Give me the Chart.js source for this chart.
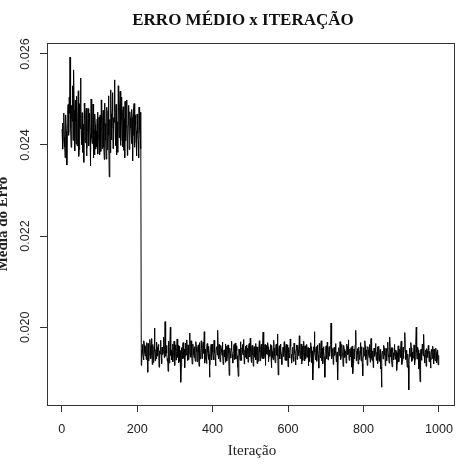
<!DOCTYPE html>
<html>
<head>
<meta charset="utf-8">
<script src="https://cdn.jsdelivr.net/npm/chart.js@4"></script>
<style>
  body { margin: 0; background: #fff; }
  #box { width: 474px; height: 474px; }
</style>
</head>
<body>
<div id="box"><canvas id="myChart"></canvas></div>
<script>
// ticks of the axes
const iteracaoTicks = [0, 200, 400, 600, 800, 1000];
const erroTicks = [0.020, 0.022, 0.024, 0.026];

// mean error at the odd iterations (1, 3, ..., 999)
const erroImpar = [
  // before the drop (iter 1 - 209)
  0.02435,0.02391,0.02455,0.02418,0.02372,0.02466,0.02402,0.02445,0.02489,0.02427,
  0.02470,0.02512,0.02395,0.02461,0.02530,0.02424,0.02476,0.02387,0.02452,0.02507,
  0.02398,0.02460,0.02375,0.02491,0.02436,0.02468,0.02401,0.02447,0.02419,0.02362,
  0.02459,0.02428,0.02481,0.02393,0.02443,0.02406,0.02469,0.02421,0.02387,0.02456,
  0.02403,0.02490,0.02414,0.02378,0.02445,0.02431,0.02396,0.02472,0.02413,0.02461,
  0.02379,0.02437,0.02499,0.02392,0.02453,0.02428,0.02368,0.02447,0.02410,0.02464,
  0.02389,0.02475,0.02421,0.02456,0.02383,0.02468,0.02437,0.02515,0.02404,0.02450,
  0.02487,0.02399,0.02462,0.02431,0.02384,0.02477,0.02442,0.02518,0.02410,0.02458,
  0.02396,0.02484,0.02429,0.02372,0.02463,0.02438,0.02499,0.02417,0.02454,0.02390,
  0.02473,0.02437,0.02403,0.02461,0.02421,0.02482,0.02395,0.02466,0.02430,0.02376,
  0.02449,0.02408,0.02483,0.02434,0.02392,
  // after the drop (iter 211 - 999)
  0.01916,0.01950,0.01943,0.01928,0.01961,0.01937,0.01954,0.01945,0.01932,0.01964,
  0.01926,0.01948,0.01959,0.01940,0.01975,0.01934,0.01922,0.01957,0.01947,0.01939,
  0.01930,0.01955,0.01946,0.01962,0.01927,0.01941,0.01958,0.01920,0.01951,0.01944,
  0.01962,0.01948,0.01936,0.01953,0.01943,0.01931,0.01969,0.01921,0.01955,0.01938,
  0.01950,0.01944,0.01924,0.01957,0.01939,0.01961,0.01928,0.01946,0.01933,0.01960,
  0.01940,0.01925,0.01949,0.01914,0.01943,0.01958,0.01931,0.01952,0.01937,0.01965,
  0.01947,0.01936,0.01961,0.01929,0.01955,0.01942,0.01970,0.01939,0.01926,0.01952,
  0.01933,0.01946,0.01941,0.01957,0.01924,0.01950,0.01944,0.01966,0.01930,0.01945,
  0.01954,0.01938,0.01967,0.01943,0.01921,0.01948,0.01935,0.01958,0.01946,0.01929,
  0.01940,0.01917,0.01952,0.01939,0.01963,0.01945,0.01928,0.01956,0.01934,0.01942,
  0.01957,0.01949,0.01936,0.01962,0.01941,0.01927,0.01953,0.01938,0.01944,0.01930,
  0.01950,0.01942,0.01923,0.01958,0.01935,0.01961,0.01947,0.01916,0.01941,0.01951,
  0.01955,0.01933,0.01946,0.01962,0.01929,0.01944,0.01959,0.01937,0.01921,0.01940,
  0.01951,0.01927,0.01945,0.01936,0.01962,0.01939,0.01955,0.01931,0.01958,0.01943,
  0.01930,0.01954,0.01941,0.01964,0.01935,0.01947,0.01922,0.01960,0.01938,0.01945,
  0.01943,0.01950,0.01928,0.01957,0.01940,0.01925,0.01953,0.01946,0.01937,0.01962,
  0.01931,0.01958,0.01944,0.01937,0.01962,0.01935,0.01949,0.01940,0.01957,0.01929,
  0.01945,0.01951,0.01934,0.01960,0.01941,0.01928,0.01954,0.01936,0.01946,0.01963,
  0.01937,0.01946,0.01928,0.01959,0.01942,0.01950,0.01932,0.01945,0.01956,0.01940,
  0.01950,0.01936,0.01962,0.01927,0.01948,0.01955,0.01939,0.01944,0.01958,0.01933,
  0.01940,0.01950,0.01925,0.01956,0.01938,0.01946,0.01961,0.01931,0.01949,0.01943,
  0.01952,0.01937,0.01963,0.01941,0.01927,0.01954,0.01944,0.01959,0.01930,0.01946,
  0.01934,0.01955,0.01940,0.01924,0.01949,0.01957,0.01936,0.01945,0.01918,0.01952,
  0.01945,0.01928,0.01957,0.01942,0.01950,0.01933,0.01964,0.01939,0.01946,0.01926,
  0.01954,0.01940,0.01946,0.01915,0.01938,0.01959,0.01931,0.01952,0.01943,0.01957,
  0.01942,0.01962,0.01948,0.01937,0.01953,0.01930,0.01956,0.01944,0.01950,0.01932,
  0.01923,0.01947,0.01955,0.01941,0.01950,0.01936,0.01962,0.01939,0.01932,0.01951,
  0.01936,0.01944,0.01928,0.01958,0.01943,0.01950,0.01937,0.01947,0.01955,0.01930,
  0.01939,0.01920,0.01952,0.01945,0.01961,0.01926,0.01947,0.01940,0.01956,0.01929,
  0.01948,0.01942,0.01957,0.01919,0.01934,0.01951,0.01944,0.01958,0.01936,0.01945,
  0.01940,0.01950,0.01933,0.01956,0.01944,0.01961,0.01927,0.01943,0.01937,0.01952,
  0.01943,0.01951,0.01938,0.01957,0.01930,0.01946,0.01925,0.01940,0.01912,0.01939,
  0.01945,0.01936,0.01954,0.01948,0.01931,0.01942,0.01950,0.01958,0.01934,0.01949,
  0.01952,0.01940,0.01927,0.01955,0.01943,0.01938,0.01951,0.01929,0.01946,0.01921,
  0.01935,0.01948,0.01938,0.01945,0.01952,0.01940,0.01926,0.01956,0.01944,0.01961,
  0.01950,0.01937,0.01933,0.01925,0.01915,0.01932,0.01949,0.01941,0.01954,0.01928,
  0.01943,0.01940,0.01956,0.01929,0.01962,0.01945,0.01938,0.01950,0.01925,0.01911,
  0.01934,0.01952,0.01941,0.01958,0.01946,0.01939,0.01932,0.01950,0.01926,0.01947,
  0.01941,0.01949,0.01935,0.01933,0.01928,0.01945,0.01937,0.01942,0.01952,0.01933,
  0.01937,0.01944,0.01930,0.01950,0.01929
];

// mean error at the even iterations (2, 4, ..., 1000)
const erroPar = [
  // before the drop (iter 2 - 210)
  0.02448,0.02412,0.02470,0.02395,0.02462,0.02430,0.02356,0.02478,0.02421,0.02505,
  0.02593,0.02438,0.02487,0.02452,0.02410,0.02565,0.02441,0.02498,0.02402,0.02476,
  0.02433,0.02519,0.02390,0.02458,0.02547,0.02420,0.02471,0.02384,0.02446,0.02492,
  0.02405,0.02463,0.02376,0.02437,0.02480,0.02398,0.02452,0.02354,0.02501,0.02415,
  0.02447,0.02372,0.02432,0.02468,0.02391,0.02425,0.02457,0.02380,0.02440,0.02408,
  0.02466,0.02386,0.02449,0.02418,0.02476,0.02395,0.02492,0.02427,0.02369,0.02483,
  0.02439,0.02508,0.02330,0.02455,0.02521,0.02411,0.02474,0.02392,0.02460,0.02543,
  0.02423,0.02489,0.02378,0.02451,0.02530,0.02416,0.02482,0.02399,0.02505,0.02436,
  0.02471,0.02388,0.02458,0.02496,0.02409,0.02465,0.02377,0.02444,0.02487,0.02401,
  0.02459,0.02420,0.02478,0.02365,0.02452,0.02491,0.02404,0.02445,0.02383,0.02468,
  0.02426,0.02372,0.02455,0.02412,0.02472,
  // after the drop (iter 212 - 1000)
  0.01921,0.01962,0.01935,0.01970,0.01944,0.01958,0.01929,0.01966,0.01901,0.01955,
  0.01940,0.01973,0.01931,0.01957,0.01918,0.01962,0.01945,0.01998,0.01926,0.01951,
  0.01967,0.01936,0.01959,0.01912,0.01948,0.01971,0.01932,0.01956,0.01940,0.01978,
  0.01933,0.02012,0.01942,0.01960,0.01925,0.01903,0.01957,0.01938,0.02000,0.01946,
  0.01928,0.01963,0.01941,0.01969,0.01916,0.01952,0.01935,0.01974,0.01947,0.01922,
  0.01958,0.01937,0.01879,0.01955,0.01930,0.01966,0.01943,0.01911,0.01960,0.01939,
  0.01972,0.01927,0.01954,0.01944,0.01987,0.01934,0.01949,0.01919,0.01963,0.01940,
  0.01957,0.01925,0.01968,0.01946,0.01933,0.01961,0.01914,0.01950,0.01938,0.01970,
  0.01931,0.01955,0.01942,0.01990,0.01929,0.01952,0.01920,0.01964,0.01937,0.01958,
  0.01890,0.01947,0.01962,0.01928,0.01953,0.01936,0.01971,0.01943,0.01915,0.01956,
  0.01939,0.01993,0.01930,0.01951,0.01924,0.01960,0.01945,0.01967,0.01918,0.01949,
  0.01935,0.01963,0.01941,0.01926,0.01958,0.01944,0.01894,0.01954,0.01932,0.01969,
  0.01940,0.01921,0.01957,0.01936,0.01965,0.01930,0.01948,0.01912,0.01892,0.01952,
  0.01938,0.01968,0.01927,0.01955,0.01943,0.01973,0.01919,0.01950,0.01934,0.01961,
  0.01946,0.01923,0.01959,0.01937,0.01976,0.01929,0.01953,0.01942,0.01914,0.01957,
  0.01934,0.01964,0.01945,0.01920,0.01956,0.01939,0.01970,0.01926,0.01951,0.01937,
  0.01948,0.01989,0.01931,0.01955,0.01916,0.01960,0.01941,0.01966,0.01924,0.01950,
  0.01936,0.01962,0.01911,0.01947,0.01933,0.01971,0.01944,0.01922,0.01958,0.01939,
  0.01985,0.01895,0.01952,0.01930,0.01963,0.01941,0.01918,0.01955,0.01935,0.01968,
  0.01927,0.01949,0.01938,0.01961,0.01913,0.01945,0.01932,0.01974,0.01940,0.01921,
  0.01956,0.01934,0.01965,0.01943,0.01917,0.01952,0.01929,0.01960,0.01937,0.01981,
  0.01931,0.01950,0.01919,0.01958,0.01940,0.01969,0.01926,0.01947,0.01935,0.01962,
  0.01942,0.01915,0.01954,0.01933,0.01966,0.01922,0.01948,0.01884,0.01957,0.01990,
  0.01936,0.01953,0.01925,0.01961,0.01939,0.01910,0.01950,0.01932,0.01970,0.01941,
  0.01920,0.01957,0.01934,0.01890,0.01952,0.01940,0.01967,0.01928,0.01946,0.01936,
  0.01959,0.02009,0.01931,0.01949,0.01918,0.01955,0.01938,0.01964,0.01924,0.01945,
  0.01884,0.01951,0.01937,0.01968,0.01929,0.01956,0.01942,0.01914,0.01960,0.01933,
  0.01947,0.01921,0.01963,0.01940,0.01972,0.01927,0.01952,0.01935,0.01912,0.01958,
  0.01898,0.01944,0.01930,0.01961,0.01993,0.01938,0.01953,0.01919,0.01949,0.01934,
  0.01966,0.01926,0.01943,0.01893,0.01955,0.01937,0.01970,0.01929,0.01950,0.01916,
  0.01957,0.01939,0.01962,0.01923,0.01975,0.01932,0.01948,0.01911,0.01954,0.01936,
  0.01964,0.01927,0.01945,0.01920,0.01958,0.01934,0.01951,0.01909,0.01868,0.01947,
  0.01930,0.01960,0.01938,0.01915,0.01953,0.01926,0.01967,0.01940,0.01921,0.01978,
  0.01935,0.01955,0.01913,0.01946,0.01928,0.01962,0.01937,0.01950,0.01905,0.01943,
  0.01959,0.01924,0.01952,0.01933,0.01969,0.01918,0.01944,0.01931,0.01957,0.01988,
  0.01929,0.01949,0.01912,0.01941,0.01862,0.01954,0.01936,0.01966,0.01925,0.01945,
  0.01932,0.01961,0.01917,0.01951,0.02000,0.01930,0.01956,0.01908,0.01942,0.01880,
  0.01948,0.01927,0.01963,0.01937,0.01984,0.01921,0.01944,0.01914,0.01953,0.01933,
  0.01960,0.01924,0.01947,0.01910,0.01951,0.01931,0.01958,0.01919,0.01940,0.01926,
  0.01954,0.01922,0.01945,0.01917,0.01938
];

// put odd and even iterations back in order: 1, 2, 3, ..., 1000
const pontos = [];
erroPar.forEach((v, i) => {
  pontos.push({ x: 2 * i + 1, y: erroImpar[i] });
  pontos.push({ x: 2 * i + 2, y: v });
});

// box around the plot + titles, R style
const molduraR = {
  id: 'molduraR',
  afterDraw(chart) {
    const { ctx, chartArea: a } = chart;
    ctx.save();
    ctx.strokeStyle = '#333';
    ctx.lineWidth = 1;
    ctx.strokeRect(Math.round(a.left) + 0.5, Math.round(a.top) + 0.5,
                   Math.round(a.right - a.left), Math.round(a.bottom - a.top));

    ctx.fillStyle = '#111';
    ctx.textAlign = 'center';
    ctx.textBaseline = 'alphabetic';
    ctx.font = 'bold 17px "Liberation Serif"';
    ctx.fillText('ERRO MÉDIO x ITERAÇÃO', 243, 25);

    ctx.fillStyle = '#222';
    ctx.font = '15px "Liberation Serif"';
    ctx.fillText('Iteração', 252, 455);

    ctx.translate(7, 224);
    ctx.rotate(-Math.PI / 2);
    ctx.font = 'bold 15px "Liberation Serif"';
    ctx.fillText('Média do Erro', 0, 0);
    ctx.restore();
  }
};

const ctx = document.getElementById('myChart').getContext('2d');
new Chart(ctx, {
  type: 'line',
  data: {
    datasets: [{
      data: pontos,
      borderColor: '#000',
      borderWidth: 1,
      pointRadius: 0,
      tension: 0,
      fill: false
    }]
  },
  options: {
    responsive: true,
    maintainAspectRatio: false,
    animation: false,
    layout: { padding: { top: 43, right: 20, bottom: 0, left: 0 } },
    plugins: { legend: { display: false }, tooltip: { enabled: false } },
    scales: {
      x: {
        type: 'linear',
        min: -39,
        max: 1040,
        afterBuildTicks: s => { s.ticks = iteracaoTicks.map(v => ({ value: v })); },
        afterFit: s => { s.height = 69; s.paddingLeft = 0; s.paddingRight = 0; },
        border: { display: false },
        grid: { drawOnChartArea: false, drawTicks: true, tickLength: 7, color: '#333' },
        ticks: {
          autoSkip: false,
          maxRotation: 0,
          padding: 10,
          color: '#222',
          font: { family: '"Liberation Sans"', size: 12.6 },
          callback: v => String(v)
        }
      },
      y: {
        min: 0.01829,
        max: 0.02624,
        afterBuildTicks: s => { s.ticks = erroTicks.map(v => ({ value: v })); },
        afterFit: s => { s.width = 47; s.paddingTop = 0; s.paddingBottom = 0; },
        border: { display: false },
        grid: { drawOnChartArea: false, drawTicks: true, tickLength: 7, color: '#333' },
        ticks: {
          autoSkip: false,
          minRotation: 90,
          maxRotation: 90,
          crossAlign: 'center',
          padding: -1,
          color: '#222',
          font: { family: '"Liberation Sans"', size: 12.6 },
          callback: v => v.toFixed(3)
        }
      }
    }
  },
  plugins: [molduraR]
});
</script>
</body>
</html>
